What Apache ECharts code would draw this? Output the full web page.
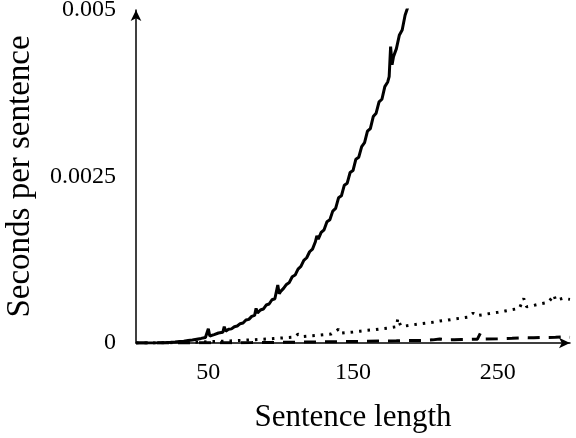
<!DOCTYPE html>
<html><head><meta charset="utf-8">
<script src="https://cdn.jsdelivr.net/npm/echarts@6/dist/echarts.min.js"></script>
<style>html,body{margin:0;padding:0;background:#fff}#c{width:576px;height:438px}</style>
</head><body><div id="c"></div>
<script>
// Solid curve
const solidX = [0,3,6,9,12,15,18,21,24,27,30,33,36,39,42,45,48,49,50,51,54,57,60,61,62,64,66,68,70,72,74,76,78,80,82,83,84,86,88,90,92,94,96,98,99,100,102,104,106,108,110,112,114,116,118,120,122,124,125,126,128,130,132,134,136,138,140,142,144,146,148,150,152,154,156,158,160,162,164,166,168,170,172,174,175,176,177,178,180,182,184,186,188,190];
const solidY = [0,0.0000001,0.0000002,0.0000006,0.0000014,0.0000026,0.0000045,0.0000072,0.0000105,0.0000148,0.000021,0.000027,0.000036,0.0000445,0.000057,0.000069,0.000083,0.000095,0.000215,0.000105,0.000125,0.00015,0.00016,0.000245,0.000178,0.000205,0.000212,0.000245,0.000255,0.00029,0.0003,0.000345,0.000355,0.0004,0.000415,0.00052,0.00045,0.000495,0.00051,0.00057,0.000585,0.00065,0.000665,0.00087,0.00074,0.000775,0.00082,0.00088,0.00091,0.000995,0.00102,0.00111,0.00115,0.00124,0.00128,0.00137,0.00141,0.00152,0.00161,0.00156,0.00166,0.0017,0.00182,0.00185,0.00198,0.00202,0.00218,0.00221,0.00237,0.0024,0.00256,0.00259,0.00276,0.00279,0.00295,0.00301,0.00318,0.00322,0.0034,0.00345,0.00362,0.00366,0.00385,0.00392,0.004,0.00445,0.00418,0.0043,0.00442,0.00462,0.0047,0.00492,0.00505,0.00522];
// Dotted curve
const dottedX = [0,5,10,15,20,25,30,35,40,45,50,55,60,65,70,75,80,85,90,95,100,105,110,112,115,120,125,130,135,140,141,145,150,155,160,165,170,175,180,181,183,185,190,195,200,205,210,215,220,225,230,233,235,240,245,250,255,260,265,268,270,275,280,285,289,290,295,300];
const dottedY = [0,0.0000002,0.0000007,0.0000017,0.000003,0.0000046,0.0000067,0.000009,0.000012,0.000015,0.000019,0.000022,0.000027,0.000031,0.000036,0.000042,0.000047,0.000054,0.00006,0.000067,0.000074,0.000082,0.000089,0.000135,0.000097,0.000107,0.000115,0.000126,0.000134,0.000205,0.000147,0.000156,0.000166,0.000178,0.00019,0.0002,0.000215,0.000227,0.000245,0.00037,0.000255,0.000252,0.000268,0.000285,0.000298,0.00031,0.00033,0.000342,0.00036,0.000375,0.00039,0.00045,0.00041,0.000425,0.000445,0.00046,0.00048,0.0005,0.00052,0.00067,0.000545,0.000565,0.00059,0.00061,0.00072,0.00064,0.00067,0.000655];
// Dashed curve
const dashedX = [0,10,20,30,40,50,60,70,80,90,100,110,120,130,140,150,160,170,180,190,200,205,210,215,220,225,230,236,238,240,250,260,265,270,275,280,290,295,300];
const dashedY = [0,0.0000001,0.0000004,0.0000009,0.0000016,0.0000025,0.0000036,0.000005,0.0000065,0.0000082,0.00001,0.000012,0.0000145,0.000017,0.00002,0.000023,0.000026,0.00003,0.000033,0.000037,0.00004,0.000047,0.00006,0.000048,0.00005,0.000052,0.000054,0.000057,0.000145,0.00006,0.000064,0.00007,0.000075,0.00008,0.000077,0.000082,0.000086,0.000092,0.000085];
// Axis ticks / labels
const xTickLabels = [50, 150, 250];
const yTickLabels = [0, 0.0025, 0.005];

const pairs = (xs, ys) => xs.map((x, i) => [x, ys[i]]);
const font = 'Liberation Serif';

const chart = echarts.init(document.getElementById('c'), null, {renderer: 'canvas'});
chart.setOption({
  animation: false,
  backgroundColor: '#fff',
  grid: {left: 136, right: 6, top: 10, bottom: 95, containLabel: false, outerBoundsMode: 'none'},
  xAxis: {
    type: 'value', min: 0, max: 300, interval: 50,
    name: 'Sentence length', nameLocation: 'middle', nameGap: 59,
    nameTextStyle: {fontFamily: font, fontSize: 31, color: '#000'},
    axisLine: {show: true, lineStyle: {color: '#000', width: 1.5}, symbol: ['none', 'arrow'], symbolSize: [8, 11]},
    axisTick: {show: false},
    splitLine: {show: false},
    axisLabel: {
      margin: 18, fontFamily: font, fontSize: 24, color: '#000',
      formatter: v => xTickLabels.includes(v) ? String(v) : ''
    }
  },
  yAxis: {
    type: 'value', min: 0, max: 0.005, interval: 0.0025,
    name: 'Seconds per sentence', nameLocation: 'middle', nameGap: 99, nameRotate: 90,
    nameTextStyle: {fontFamily: font, fontSize: 33, color: '#000', padding: [0, 0, 0, 0]},
    axisLine: {show: true, onZero: false, lineStyle: {color: '#000', width: 1.5}, symbol: ['none', 'arrow'], symbolSize: [8, 11]},
    axisTick: {show: false},
    splitLine: {show: false},
    axisLabel: {
      margin: 20, fontFamily: font, fontSize: 24, color: '#000',
      formatter: v => {
        const m = yTickLabels.find(t => Math.abs(t - v) < 1e-9);
        return m === undefined ? '' : String(m);
      }
    }
  },
  series: [
    {type: 'line', data: pairs(solidX, solidY), showSymbol: false, symbol: 'none', clip: true,
     lineStyle: {color: '#000', width: 3, type: 'solid'}},
    {type: 'line', data: pairs(dottedX, dottedY), showSymbol: false, symbol: 'none', clip: true,
     lineStyle: {color: '#000', width: 3, type: [2.5, 6]}},
    {type: 'line', data: pairs(dashedX, dashedY), showSymbol: false, symbol: 'none', clip: true,
     lineStyle: {color: '#000', width: 3, type: [12, 9]}}
  ]
});
</script>
</body></html>
